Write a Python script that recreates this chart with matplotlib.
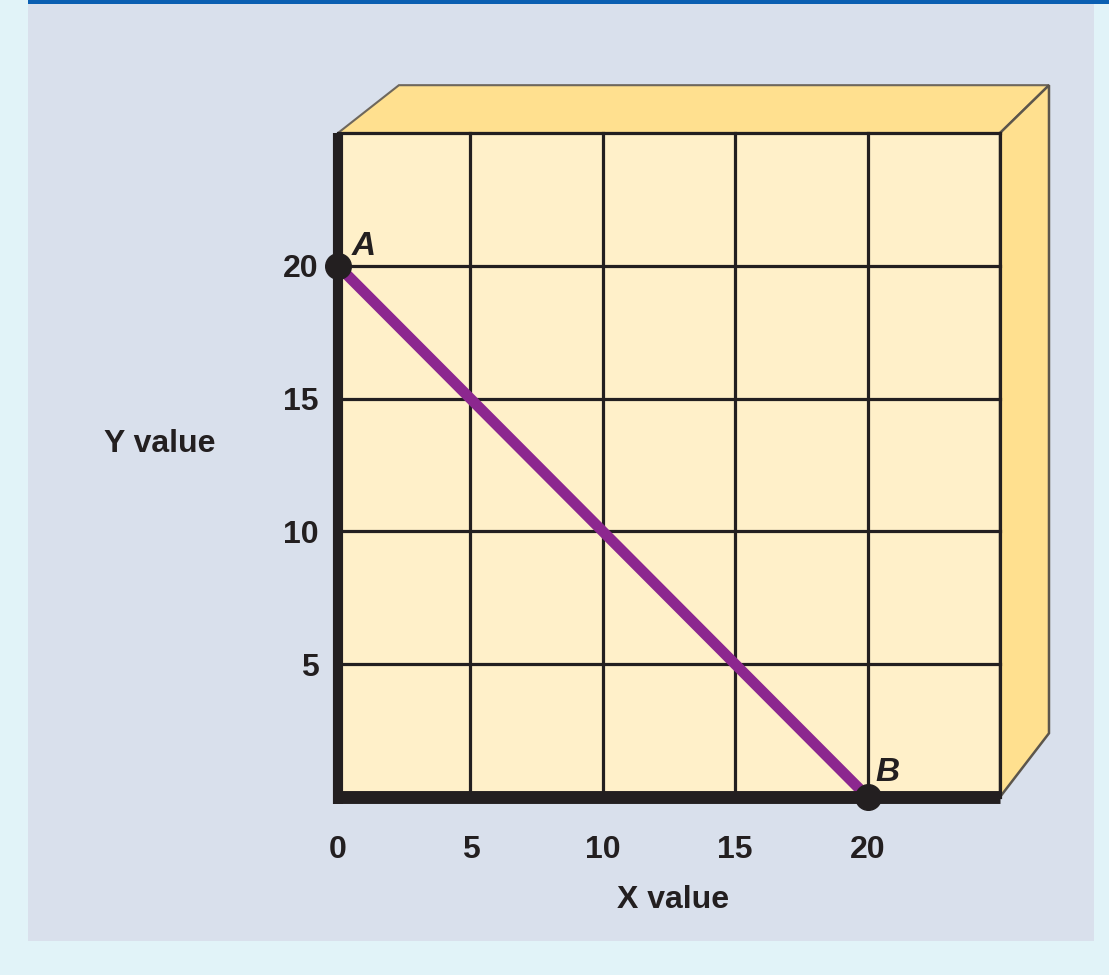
import matplotlib
matplotlib.use('Agg')
import matplotlib.pyplot as plt
from matplotlib.patches import Polygon, Rectangle

# data
line_x = [0, 20]
line_y = [20, 0]
point_names = ['A', 'B']
x_ticks = [0, 5, 10, 15, 20]
y_ticks = [5, 10, 15, 20]
grid_lines = [5, 10, 15, 20, 25]
axis_max = 25
x_title = 'X value'
y_title = 'Y value'

INK = '#231f20'
FONT = ['Liberation Sans', 'DejaVu Sans']

plt.rcParams['font.family'] = FONT

fig = plt.figure(figsize=(11.09, 9.75), dpi=100)
fig.patch.set_facecolor('#e1f3f8')

# background panel and blue rule on top
fig.patches.append(Rectangle((28 / 1109, 1 - 941 / 975), (1094 - 28) / 1109,
                             (941 - 3) / 975, transform=fig.transFigure,
                             facecolor='#d9e0ec', edgecolor='none', zorder=-2))
fig.patches.append(Rectangle((28 / 1109, 1 - 4 / 975), (1109 - 28) / 1109,
                             4 / 975, transform=fig.transFigure,
                             facecolor='#0a5fb2', edgecolor='none', zorder=-2))

ax = fig.add_axes([338 / 1109, 178 / 975, 662 / 1109, 664 / 975])
ax.set_facecolor('#fff0c9')
ax.set_xlim(0, axis_max)
ax.set_ylim(0, axis_max)

# box sides (top and right faces)
top_face = Polygon([(0, axis_max), (2.3, 26.8), (26.85, 26.8), (axis_max, axis_max)],
                   closed=True, facecolor='#ffe08f', edgecolor='#6e675c',
                   lw=1.5, clip_on=False, zorder=0.5)
right_face = Polygon([(axis_max, axis_max), (26.85, 26.8), (26.85, 2.4), (axis_max, 0)],
                     closed=True, facecolor='#ffe08f', edgecolor='#5c564c',
                     lw=1.8, clip_on=False, zorder=0.5)
ax.add_patch(top_face)
ax.add_patch(right_face)

for g in grid_lines:
    ax.axvline(g, color=INK, lw=2.3, zorder=1, clip_on=False)
    ax.axhline(g, color=INK, lw=2.3, zorder=1, clip_on=False)

for side in ['top', 'right']:
    ax.spines[side].set_visible(False)
ax.spines['left'].set_linewidth(7.3)
ax.spines['bottom'].set_linewidth(9.3)
ax.spines['left'].set_bounds(-0.25, axis_max)
ax.spines['bottom'].set_bounds(-0.2, axis_max)
for side in ['left', 'bottom']:
    ax.spines[side].set_color(INK)
    ax.spines[side].set_zorder(3)
    ax.spines[side].set_capstyle('butt')

ax.plot(line_x, line_y, color='#8c278f', lw=7.8, solid_capstyle='butt',
        zorder=2, clip_on=False)
ax.scatter(line_x, line_y, s=340, color=INK, zorder=4, clip_on=False)

offsets = [(14, 11), (8, 16)]
for name, px, py, off in zip(point_names, line_x, line_y, offsets):
    ax.annotate(name, (px, py), xytext=off, textcoords='offset pixels',
                ha='left', va='baseline', fontsize=24, fontstyle='italic',
                fontweight='bold', color=INK, zorder=5)

ax.set_xticks(x_ticks)
ax.set_yticks(y_ticks)
ax.tick_params(length=0, labelsize=23, labelcolor=INK)
ax.tick_params(axis='x', pad=27)
ax.tick_params(axis='y', pad=14)
for lab in ax.get_xticklabels() + ax.get_yticklabels():
    lab.set_fontweight('bold')

fig.text(673 / 1109, 1 - 900 / 975, x_title, ha='center', va='center',
         fontsize=23, fontweight='bold', color=INK)
fig.text(160 / 1109, 1 - 444 / 975, y_title, ha='center', va='center',
         fontsize=23, fontweight='bold', color=INK)

fig.savefig('out.png', dpi=100, facecolor=fig.get_facecolor())
